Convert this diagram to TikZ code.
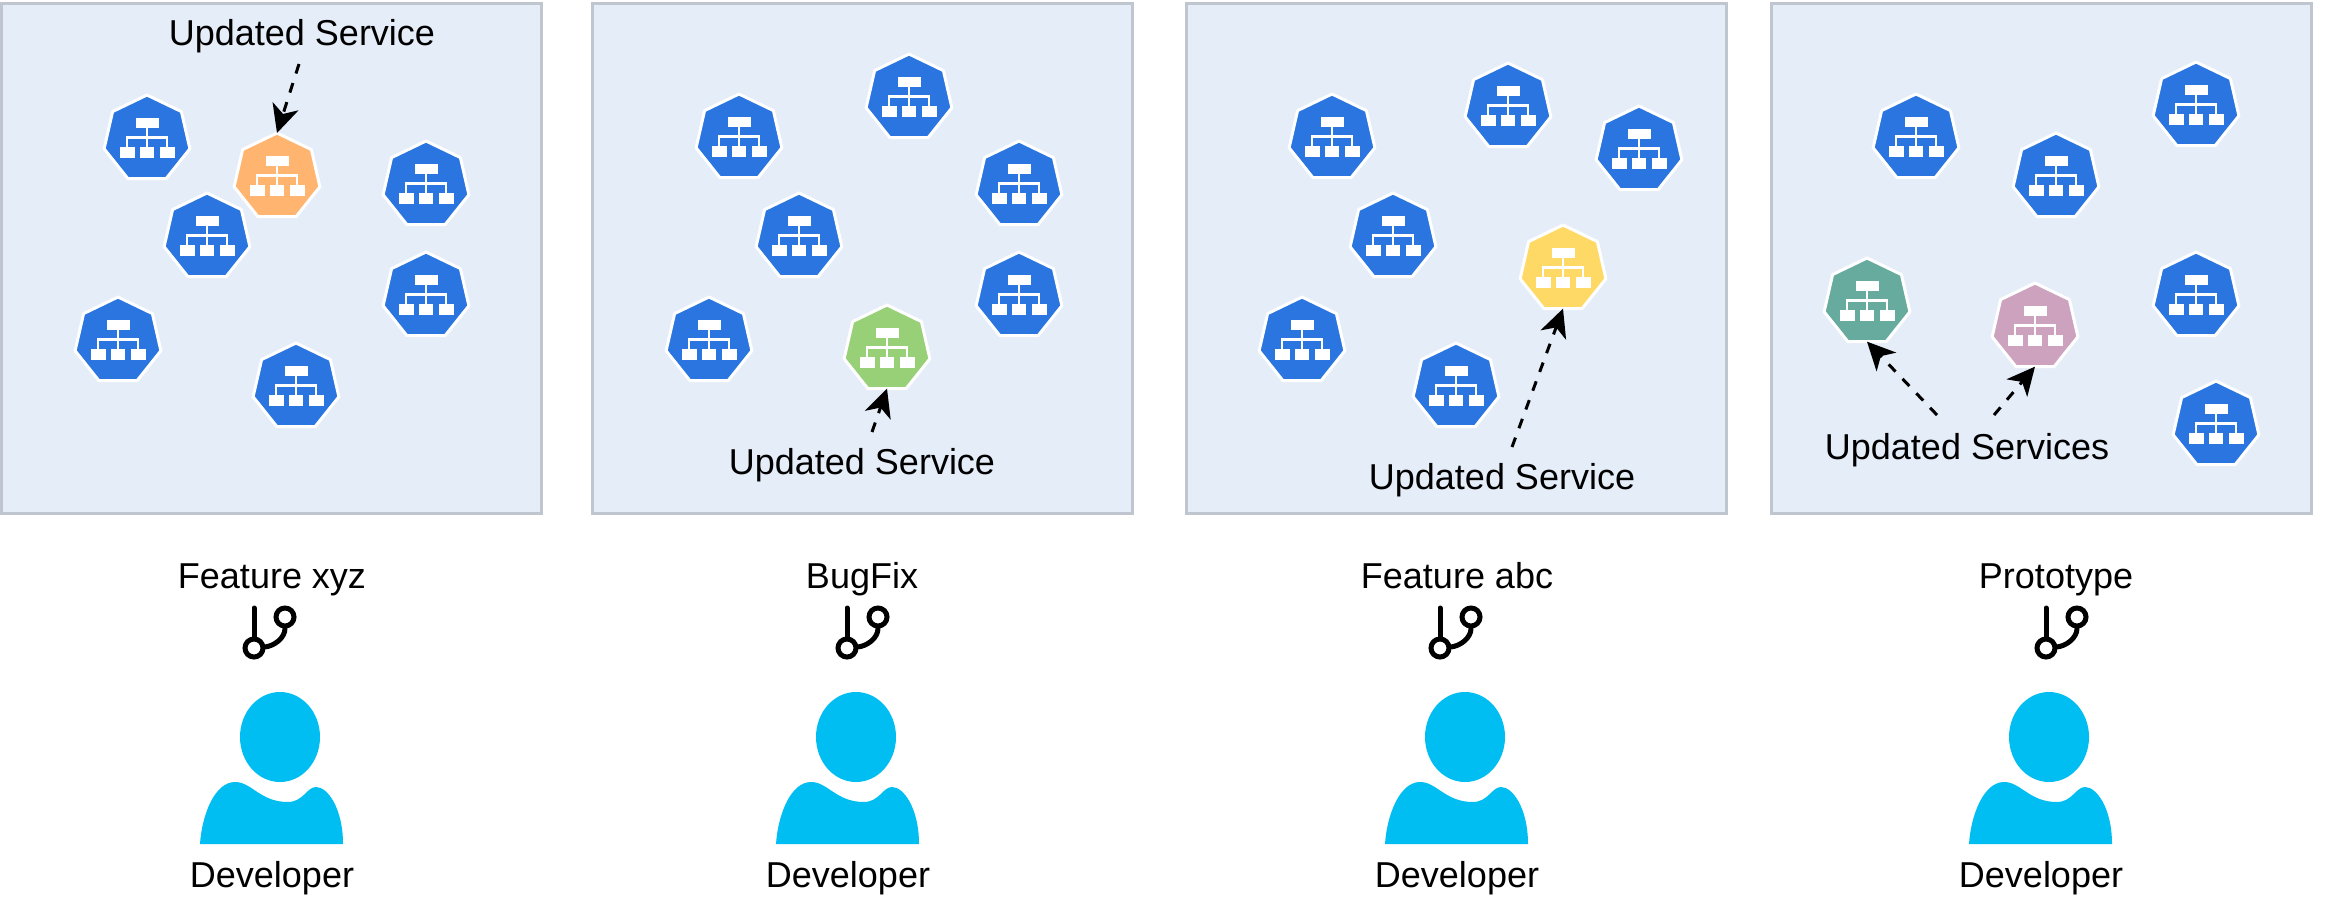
\documentclass[tikz,border=0pt]{standalone}
\usepackage{fontspec}
\setmainfont{Liberation Sans}
\usetikzlibrary{shapes.geometric,arrows.meta}
\definecolor{panelfill}{HTML}{E5EDF8}
\definecolor{panelline}{HTML}{BFC6D0}
\definecolor{kblue}{HTML}{2A75E0}
\definecolor{korange}{HTML}{FFB570}
\definecolor{kgreen}{HTML}{97D077}
\definecolor{kyellow}{HTML}{FFD966}
\definecolor{kteal}{HTML}{67AB9F}
\definecolor{kpurple}{HTML}{CDA2BE}
\definecolor{person}{HTML}{00BEF2}
\tikzset{
  panel/.style={draw=panelline,fill=panelfill,line width=3pt,minimum width=540,minimum height=510,anchor=north west,inner sep=0,outer sep=0},
  svc/.style={regular polygon,regular polygon sides=7,minimum size=88,inner sep=0,outer sep=0,draw=white,line width=3pt,line join=round},
  lab/.style={anchor=base,font=\fontsize{36}{40}\selectfont,inner sep=0},
  note/.style={-{Stealth[length=28pt,width=27pt,inset=8pt]},dash pattern=on 10pt off 10pt,line width=3pt},
  icon/.style={white,line width=2.5pt},
  gitline/.style={line width=5pt,black,line cap=round},
  gitdot/.style={circle,draw=black,line width=5pt,minimum size=18,inner sep=0},
}
\newcommand{\svcnode}[4]{%
  \node[svc,fill=#4] (#1) at (#2,#3+44) {};
  \begin{scope}[shift={(#2,#3)}]
    \fill[white] (-11.5,23) rectangle (11.5,33);
    \fill[white] (-27,52) rectangle (-12,63);
    \fill[white] (-7,52) rectangle (7,63);
    \fill[white] (12.5,52) rectangle (27.5,63);
    \draw[icon] (0,33) -- (0,52);
    \draw[icon] (-20,52) -- (-20,42.5) -- (20,42.5) -- (20,52);
  \end{scope}}
\newcommand{\gitmark}[3]{%
  \begin{scope}[shift={(#2,#3)}]
    \node[gitdot] (#1a) at (0,40) {};
    \node[gitdot] (#1b) at (31,9) {};
    \coordinate (#1t) at (0,0);
    \draw[gitline] (#1t) -- (#1a);
    \draw[gitline] (#1b) .. controls (31,30) and (20,38) .. (#1a);
  \end{scope}}
\newcommand{\devfig}[3]{%
  \begin{scope}[shift={(#2,#3)}]
    \node[ellipse,fill=person,minimum width=80,minimum height=90,inner sep=0] (#1) at (80,-107) {};
    \fill[person] (0,0) .. controls (2,-30) and (15,-62) .. (35,-62) .. controls (52,-62) and (60,-42) .. (88,-42) .. controls (103,-42) and (107,-57) .. (116,-57) .. controls (128,-57) and (143,-35) .. (143,0) -- cycle;
  \end{scope}}
\begin{document}
\begin{tikzpicture}[x=1pt,y=-1pt]
\path[use as bounding box,fill=white] (0,0) rectangle (2334,906);
% panels
\node[panel] (p1) at (1,3) {};
\node[panel] (p2) at (592,3) {};
\node[panel] (p3) at (1186,3) {};
\node[panel] (p4) at (1771,3) {};
% services panel 1
\svcnode{a1}{147}{95}{kblue}
\svcnode{a2}{277}{133}{korange}
\svcnode{a3}{426}{141}{kblue}
\svcnode{a4}{207}{193}{kblue}
\svcnode{a5}{426}{252}{kblue}
\svcnode{a6}{118}{297}{kblue}
\svcnode{a7}{296}{343}{kblue}
% panel 2
\svcnode{b1}{739}{94}{kblue}
\svcnode{b2}{909}{54}{kblue}
\svcnode{b3}{1019}{141}{kblue}
\svcnode{b4}{799}{193}{kblue}
\svcnode{b5}{1019}{252}{kblue}
\svcnode{b6}{709}{297}{kblue}
\svcnode{b7}{887}{305}{kgreen}
% panel 3
\svcnode{c1}{1332}{94}{kblue}
\svcnode{c2}{1508}{63}{kblue}
\svcnode{c3}{1639}{106}{kblue}
\svcnode{c4}{1393}{193}{kblue}
\svcnode{c5}{1563}{225}{kyellow}
\svcnode{c6}{1302}{297}{kblue}
\svcnode{c7}{1456}{343}{kblue}
% panel 4
\svcnode{d1}{1916}{94}{kblue}
\svcnode{d2}{2056}{133}{kblue}
\svcnode{d3}{2196}{62}{kblue}
\svcnode{d4}{2196}{252}{kblue}
\svcnode{d5}{1867}{258}{kteal}
\svcnode{d6}{2035}{283}{kpurple}
\svcnode{d7}{2216}{381}{kblue}
% notes
\node[lab] (n1) at (302,45) {Updated Service};
\node[lab] (n2) at (862,474) {Updated Service};
\node[lab] (n3) at (1502,489) {Updated Service};
\node[lab] (n4) at (1967,459) {Updated Services};
\coordinate (s1) at (299,64);
\coordinate (s2) at (872,432);
\coordinate (s3) at (1512,447);
\coordinate (s4) at (1937,415);
\coordinate (s5) at (1994,415);
\draw[note] (s1) -- (a2.corner 1);
\draw[note] (s2) -- (b7.south);
\draw[note] (s3) -- (c5.south);
\draw[note] (s4) -- (d5.south);
\draw[note] (s5) -- (d6.south);
% branch labels
\node[lab] (f1) at (272,588) {Feature xyz};
\node[lab] (f2) at (862,588) {BugFix};
\node[lab] (f3) at (1457,588) {Feature abc};
\node[lab] (f4) at (2056,588) {Prototype};
\gitmark{g1}{254}{608}
\gitmark{g2}{847}{608}
\gitmark{g3}{1440}{608}
\gitmark{g4}{2046}{608}
\devfig{u1}{200}{844}
\devfig{u2}{776}{844}
\devfig{u3}{1385}{844}
\devfig{u4}{1969}{844}
\node[lab] (t1) at (272,887) {Developer};
\node[lab] (t2) at (848,887) {Developer};
\node[lab] (t3) at (1457,887) {Developer};
\node[lab] (t4) at (2041,887) {Developer};
\end{tikzpicture}
\end{document}
